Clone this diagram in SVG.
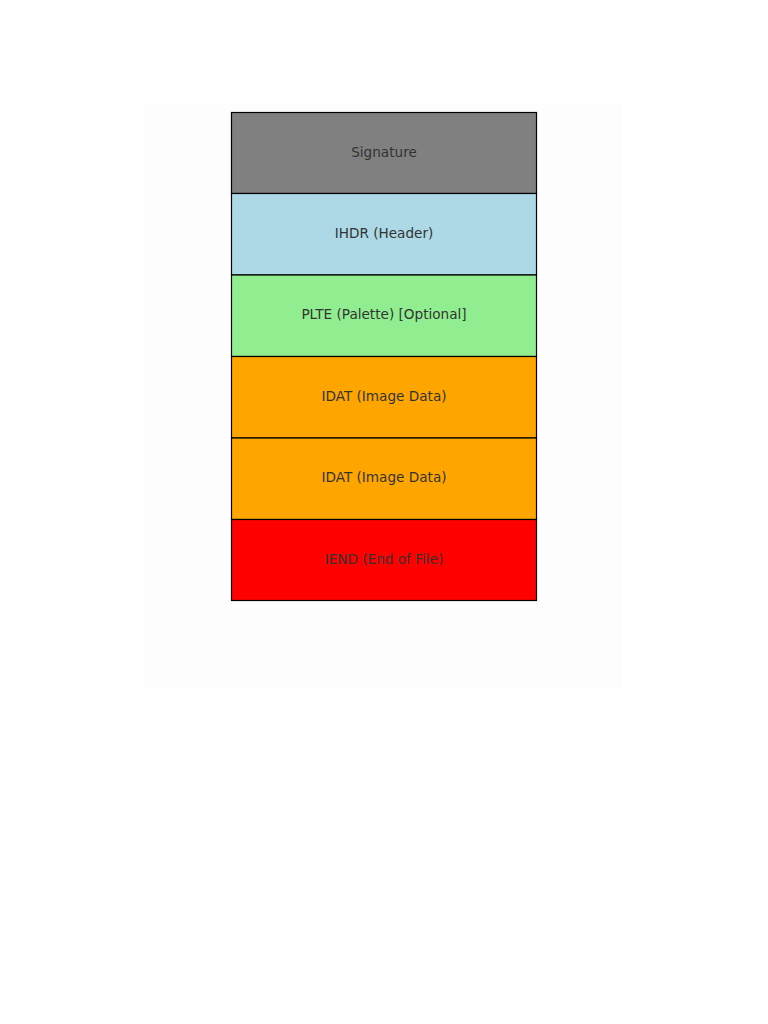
<svg xmlns="http://www.w3.org/2000/svg" width="768" height="1024" viewBox="0 0 768 1024">
<style>
.box{stroke:#000;stroke-width:1.2}
.lbl{font-family:"DejaVu Sans",sans-serif;font-size:13.6px;fill:#333;text-anchor:middle;dominant-baseline:central}
</style>
<rect width="768" height="1024" fill="#fff"/>
<rect x="144" y="104" width="478" height="584" fill="#fdfdfd"/>
<g id="signature"><rect class="box" x="231.5" y="112.5" width="305" height="81" fill="#808080"/><text class="lbl" x="384" y="151.8">Signature</text></g>
<g id="ihdr"><rect class="box" x="231.5" y="193.5" width="305" height="81.5" fill="#add8e6"/><text class="lbl" x="384" y="232.8">IHDR (Header)</text></g>
<g id="plte"><rect class="box" x="231.5" y="275" width="305" height="81.5" fill="#90ee90"/><text class="lbl" x="384" y="314.3">PLTE (Palette) [Optional]</text></g>
<g id="idat1"><rect class="box" x="231.5" y="356.5" width="305" height="81.5" fill="#ffa500"/><text class="lbl" x="384" y="395.8">IDAT (Image Data)</text></g>
<g id="idat2"><rect class="box" x="231.5" y="438" width="305" height="81.5" fill="#ffa500"/><text class="lbl" x="384" y="477.3">IDAT (Image Data)</text></g>
<g id="iend"><rect class="box" x="231.5" y="519.5" width="305" height="81" fill="#ff0000"/><text class="lbl" x="384" y="558.8">IEND (End of File)</text></g>
<g id="connectors"/>
</svg>
